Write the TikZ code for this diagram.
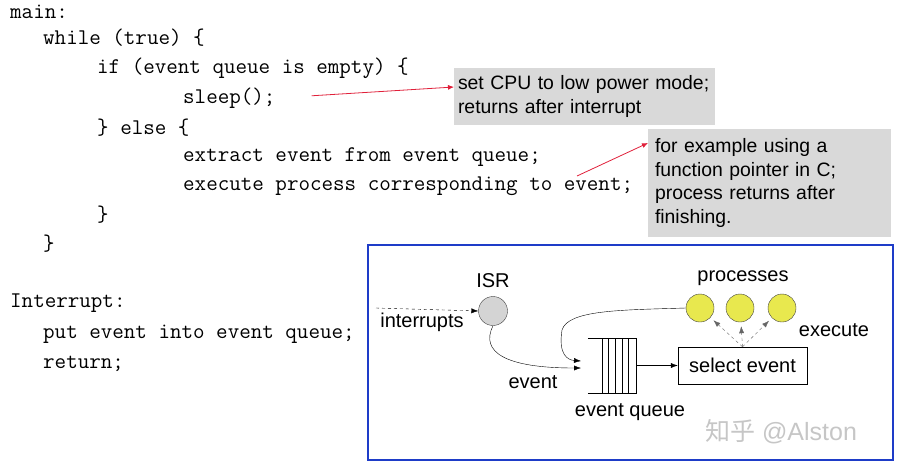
\documentclass[tikz,border=0pt]{standalone}
\usepackage{fontspec}
\setmainfont{Liberation Sans}
\newfontfamily\cjk{Noto Sans CJK SC}
\usetikzlibrary{arrows.meta,calc}
\definecolor{notegray}{HTML}{D9D9D9}
\definecolor{isrgray}{HTML}{D4D4D4}
\definecolor{procyellow}{HTML}{E8E84E}
\definecolor{frameblue}{HTML}{1E3CC8}
\definecolor{notered}{HTML}{E0203A}
\tikzset{
    code/.style = {anchor=west, inner sep=0pt,
        font=\fontsize{22.4}{24}\selectfont\ttfamily},
    note/.style = {fill=notegray, align=left, inner xsep=7pt,
        font=\fontsize{19.4}{23.6}\selectfont},
    label/.style = {inner sep=0pt, font=\fontsize{20}{24}\selectfont},
    isr/.style = {draw=black!75, fill=isrgray, circle, minimum size=29pt, inner sep=0pt},
    proc/.style = {draw=black!75, fill=procyellow, circle, minimum size=28pt, inner sep=0pt},
    block/.style = {draw, rectangle, minimum height=37pt, minimum width=129pt,
        font=\fontsize{20}{24}\selectfont},
    arrow/.style = {draw, -{Latex[length=7pt,width=5pt]}},
    redarrow/.style = {draw=notered, -{Latex[length=6pt,width=5pt]}, thick}
}

\begin{document}
\begin{tikzpicture}[x=1pt,y=-1pt]
    \useasboundingbox (0,0) rectangle (905,469);
    % code
    \node [code] (main) at (10,12) {main:};
    \node [code] (while) at (43,38) {while (true) \{};
    \node [code] (if) at (97,68) {if (event queue is empty) \{};
    \node [code] (sleep) at (183,98) {sleep();};
    \node [code] (else) at (97,128) {\} else \{};
    \node [code] (extract) at (183,157) {extract event from event queue;};
    \node [code] (exec) at (183,186) {execute process corresponding to event;};
    \node [code] (endif) at (97,215) {\}};
    \node [code] (endwhile) at (43,244) {\}};
    \node [code] (intr) at (10,303) {Interrupt:};
    \node [code] (put) at (43,334) {put event into event queue;};
    \node [code] (ret) at (43,364) {return;};

    % notes
    \node [note, inner xsep=4pt, text width=253pt, minimum height=57pt] (lownote) at (584.5,96.5)
        {set CPU to low power mode;\\returns after interrupt};
    \node [note, text width=229pt, minimum height=108pt] (fpnote) at (769.5,183)
        {for example using a\\function pointer in C;\\process returns after\\finishing.};
    \coordinate (sleepend) at (454,87);
    \coordinate (execstart) at (577,176);
    \coordinate (fpend) at (648,143);
    \draw [redarrow, shorten <=36pt] (sleep.east) -- (sleepend);
    \draw [redarrow] (execstart) -- (fpend);

    % event loop picture
    \draw [frameblue, line width=2.5pt] (368,245) rectangle (893,460);
    \node [isr] (isr) at (493,311) {};
    \node [label] (isrlabel) at (493,281) {ISR};
    \foreach \n/\px in {1/700,2/740,3/782}
        \node [proc] (p\n) at (\px,308) {};
    \node [label] (proclabel) at (743,278) {processes};
    \node [label] (execlabel) at (834,330) {execute};
    \coordinate (irqin) at (376,308);
    \node [label] (irqlabel) at (422,322) {interrupts};
    \draw [arrow, dashed] (irqin) -- (isr.west);

    \node [minimum width=49pt, minimum height=55pt, inner sep=0pt] (queue) at (612.5,365.5) {};
    \draw (queue.north west) -- (queue.north east);
    \draw (queue.south west) -- (queue.south east);
    \foreach \qx in {602,608,615,622,628,636}
        \draw (\qx,338) -- (\qx,393);
    \node [label] (queuelabel) at (630,412) {event queue};
    \node [block] (select) at (742.5,365.5) {select event};
    \draw [arrow] (queue.east) -- (select.west);
    \foreach \n in {1,2,3}
        \draw [arrow, dashed, black!60, shorten >=4pt] (select.north) -- (p\n);

    \coordinate (evin) at (581,368);
    \coordinate (procin) at (581,361);
    \draw [arrow] (isr.south) .. controls (480,352) and (505,368) .. (evin);
    \node [label] (evlabel) at (533,382) {event};
    \draw [arrow] (p1.west) .. controls (620,310) and (568,310) .. (562,330)
        .. controls (558,355) and (568,360) .. (procin);

    \node [text=gray!45, inner sep=0pt, font=\fontsize{25}{28}\selectfont] (mark) at (781,432)
        {{\cjk 知乎} @Alston};
\end{tikzpicture}
\end{document}
